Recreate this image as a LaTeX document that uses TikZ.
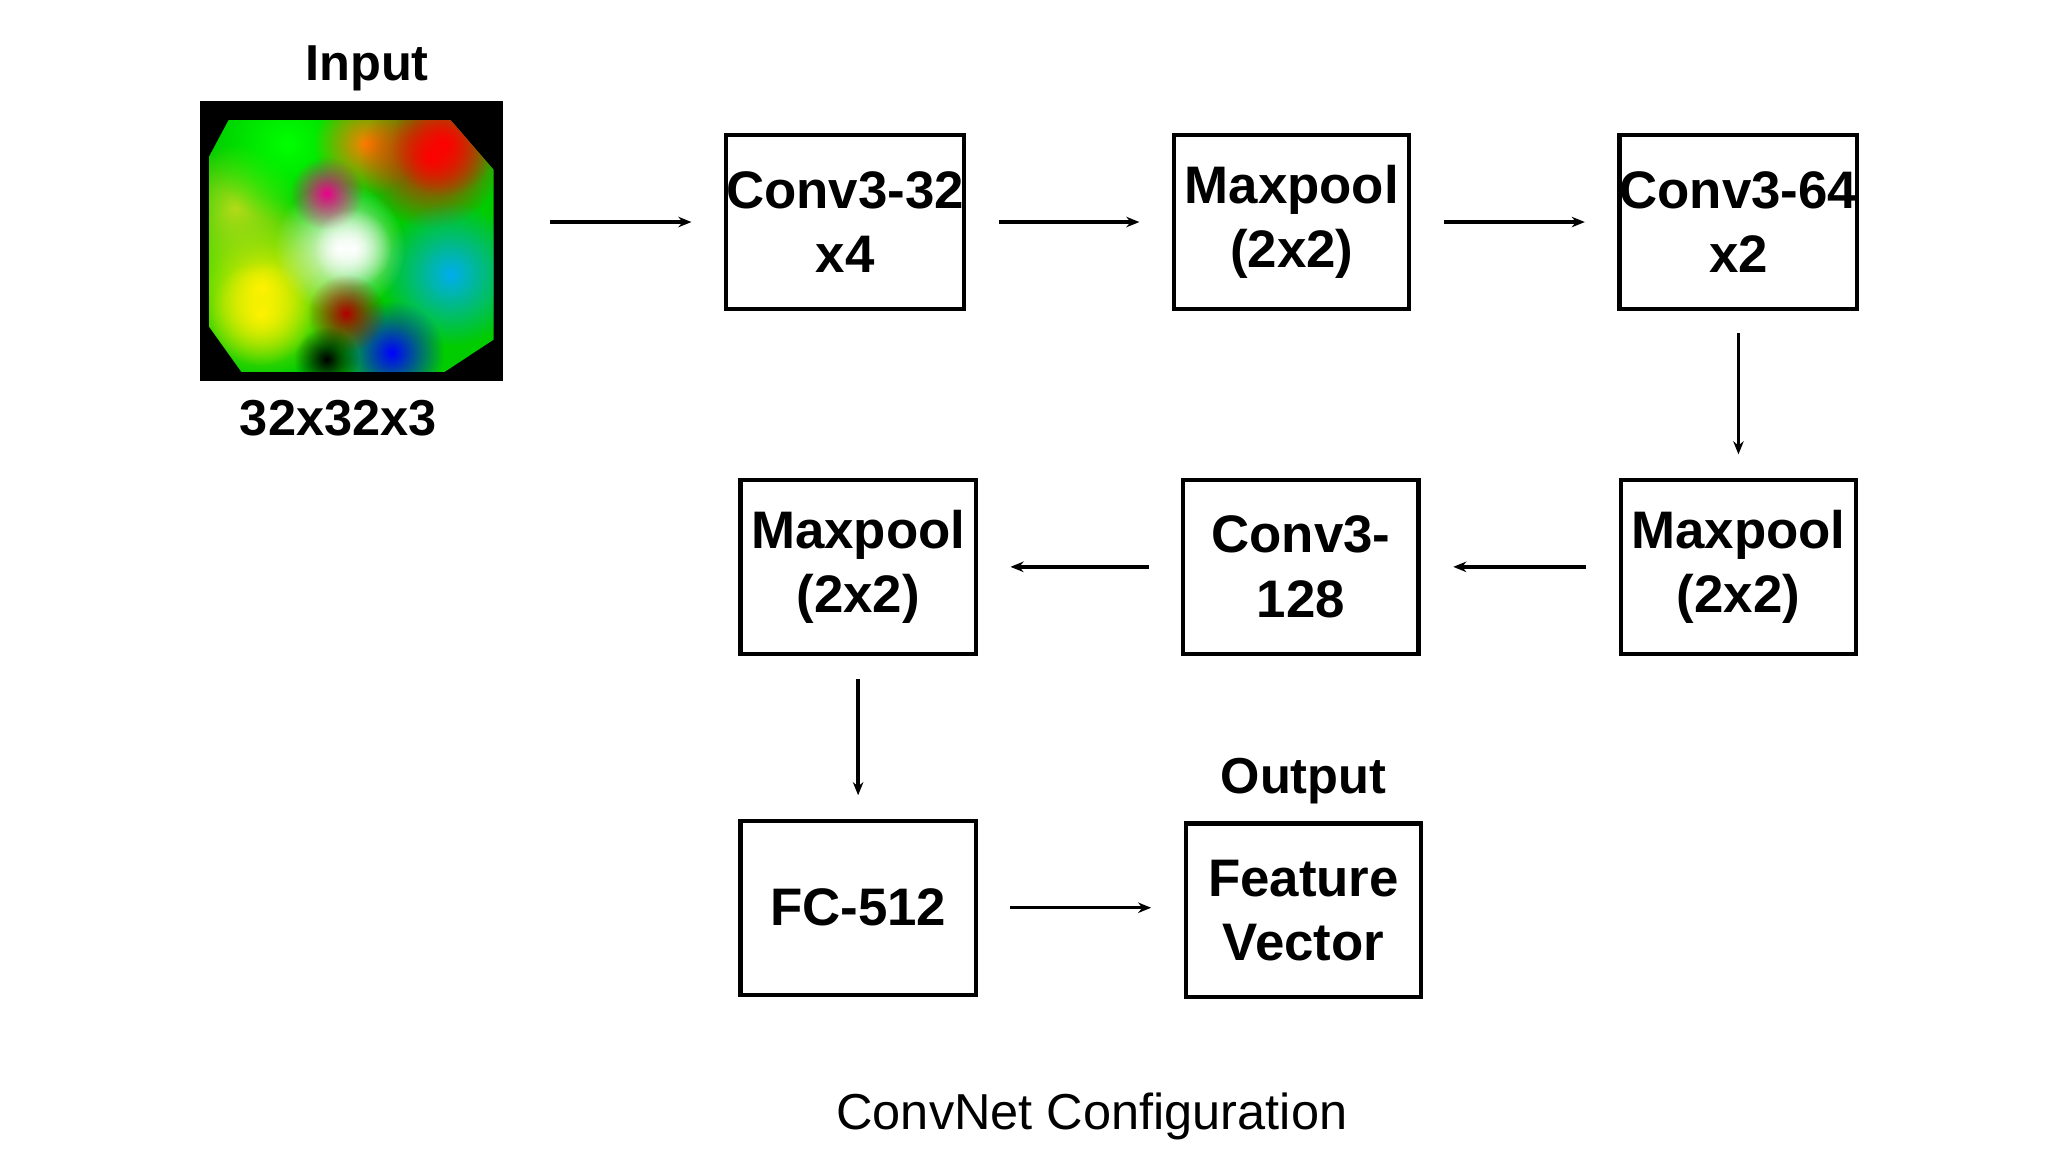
\documentclass[tikz,border=0pt]{standalone}
\usepackage{fontspec}
\setmainfont{Liberation Sans}
\usetikzlibrary{arrows.meta,fadings}
\tikzfading[name=myfade, inner color=transparent!0, outer color=transparent!100]
\begin{document}
\begin{tikzpicture}[x=0.01cm,y=-0.01cm,
  box/.style={draw,line width=0.9pt,minimum width=1.8cm,minimum height=1.33cm,align=center,font=\fontsize{11.5}{14}\selectfont\bfseries,inner sep=0pt},
  lbl/.style={font=\fontsize{11}{13}\selectfont\bfseries},
  arr/.style={line width=0.75pt,-{Stealth[length=0.1cm,width=0.08cm]},shorten <=0.25cm,shorten >=0.25cm},
  blob/.style={path fading=myfade}]
\useasboundingbox (0,0) rectangle (1568,882);
% input image
\fill[black] (153,77) rectangle (385,292);
\begin{scope}
\clip (175,92) -- (345,92) -- (378,130) -- (378,260) -- (340,285) -- (185,285) -- (160,250) -- (160,120) -- cycle;
\fill[green!80!black] (160,90) rectangle (380,285);
\fill[blob,yellow] (200,220) circle (70);
\fill[blob,yellow!70!green] (180,160) circle (50);
\fill[blob,green] (220,110) circle (60);
\fill[blob,orange] (280,110) circle (40);
\fill[blob,red] (330,120) circle (55);
\fill[blob,red] (340,110) circle (40);
\fill[blob,cyan] (345,210) circle (55);
\fill[blob,white] (260,190) circle (50);
\fill[blob,magenta] (250,148) circle (28);
\fill[blob,white] (270,190) circle (30);
\fill[blob,blue] (300,270) circle (40);
\fill[blob,red!70!black] (265,240) circle (30);
\fill[blob,black] (250,275) circle (25);
\fill[blob,yellow] (200,240) circle (40);
\end{scope}
\node[inner sep=0pt,minimum width=2.32cm,minimum height=2.15cm] (in) at (269,184.5) {};
\node[lbl] (inl) at (281,52) {Input};
\node[lbl] (dim) at (259,320) {32x32x3};
\node[box] (c1) at (647,170) {Conv3-32\\x4};
\node[box] (m1) at (989,170) {Maxpool\\(2x2)};
\node[box] (c2) at (1331,170) {Conv3-64\\x2};
\node[box] (m2) at (1331,434) {Maxpool\\(2x2)};
\node[box] (c3) at (996,434) {Conv3-\\128};
\node[box] (m3) at (657,434) {Maxpool\\(2x2)};
\node[box] (fc) at (657,695) {FC-512};
\node[box] (fv) at (998,697) {Feature\\Vector};
\node[lbl] (out) at (998,598) {Output};
\node[font=\fontsize{11}{13}\selectfont] (cap) at (836,855) {ConvNet Configuration};
\draw[arr,shorten <=0.35cm] (in.east|-c1) -- (c1);
\draw[arr] (c1) -- (m1);
\draw[arr] (m1) -- (c2);
\draw[arr,shorten <=0.17cm,shorten >=0.18cm] (c2) -- (m2);
\draw[arr] (m2) -- (c3);
\draw[arr] (c3) -- (m3);
\draw[arr,shorten <=0.18cm,shorten >=0.18cm] (m3) -- (fc);
\draw[arr] (fc) -- (fv.west|-fc);
\end{tikzpicture}
\end{document}
